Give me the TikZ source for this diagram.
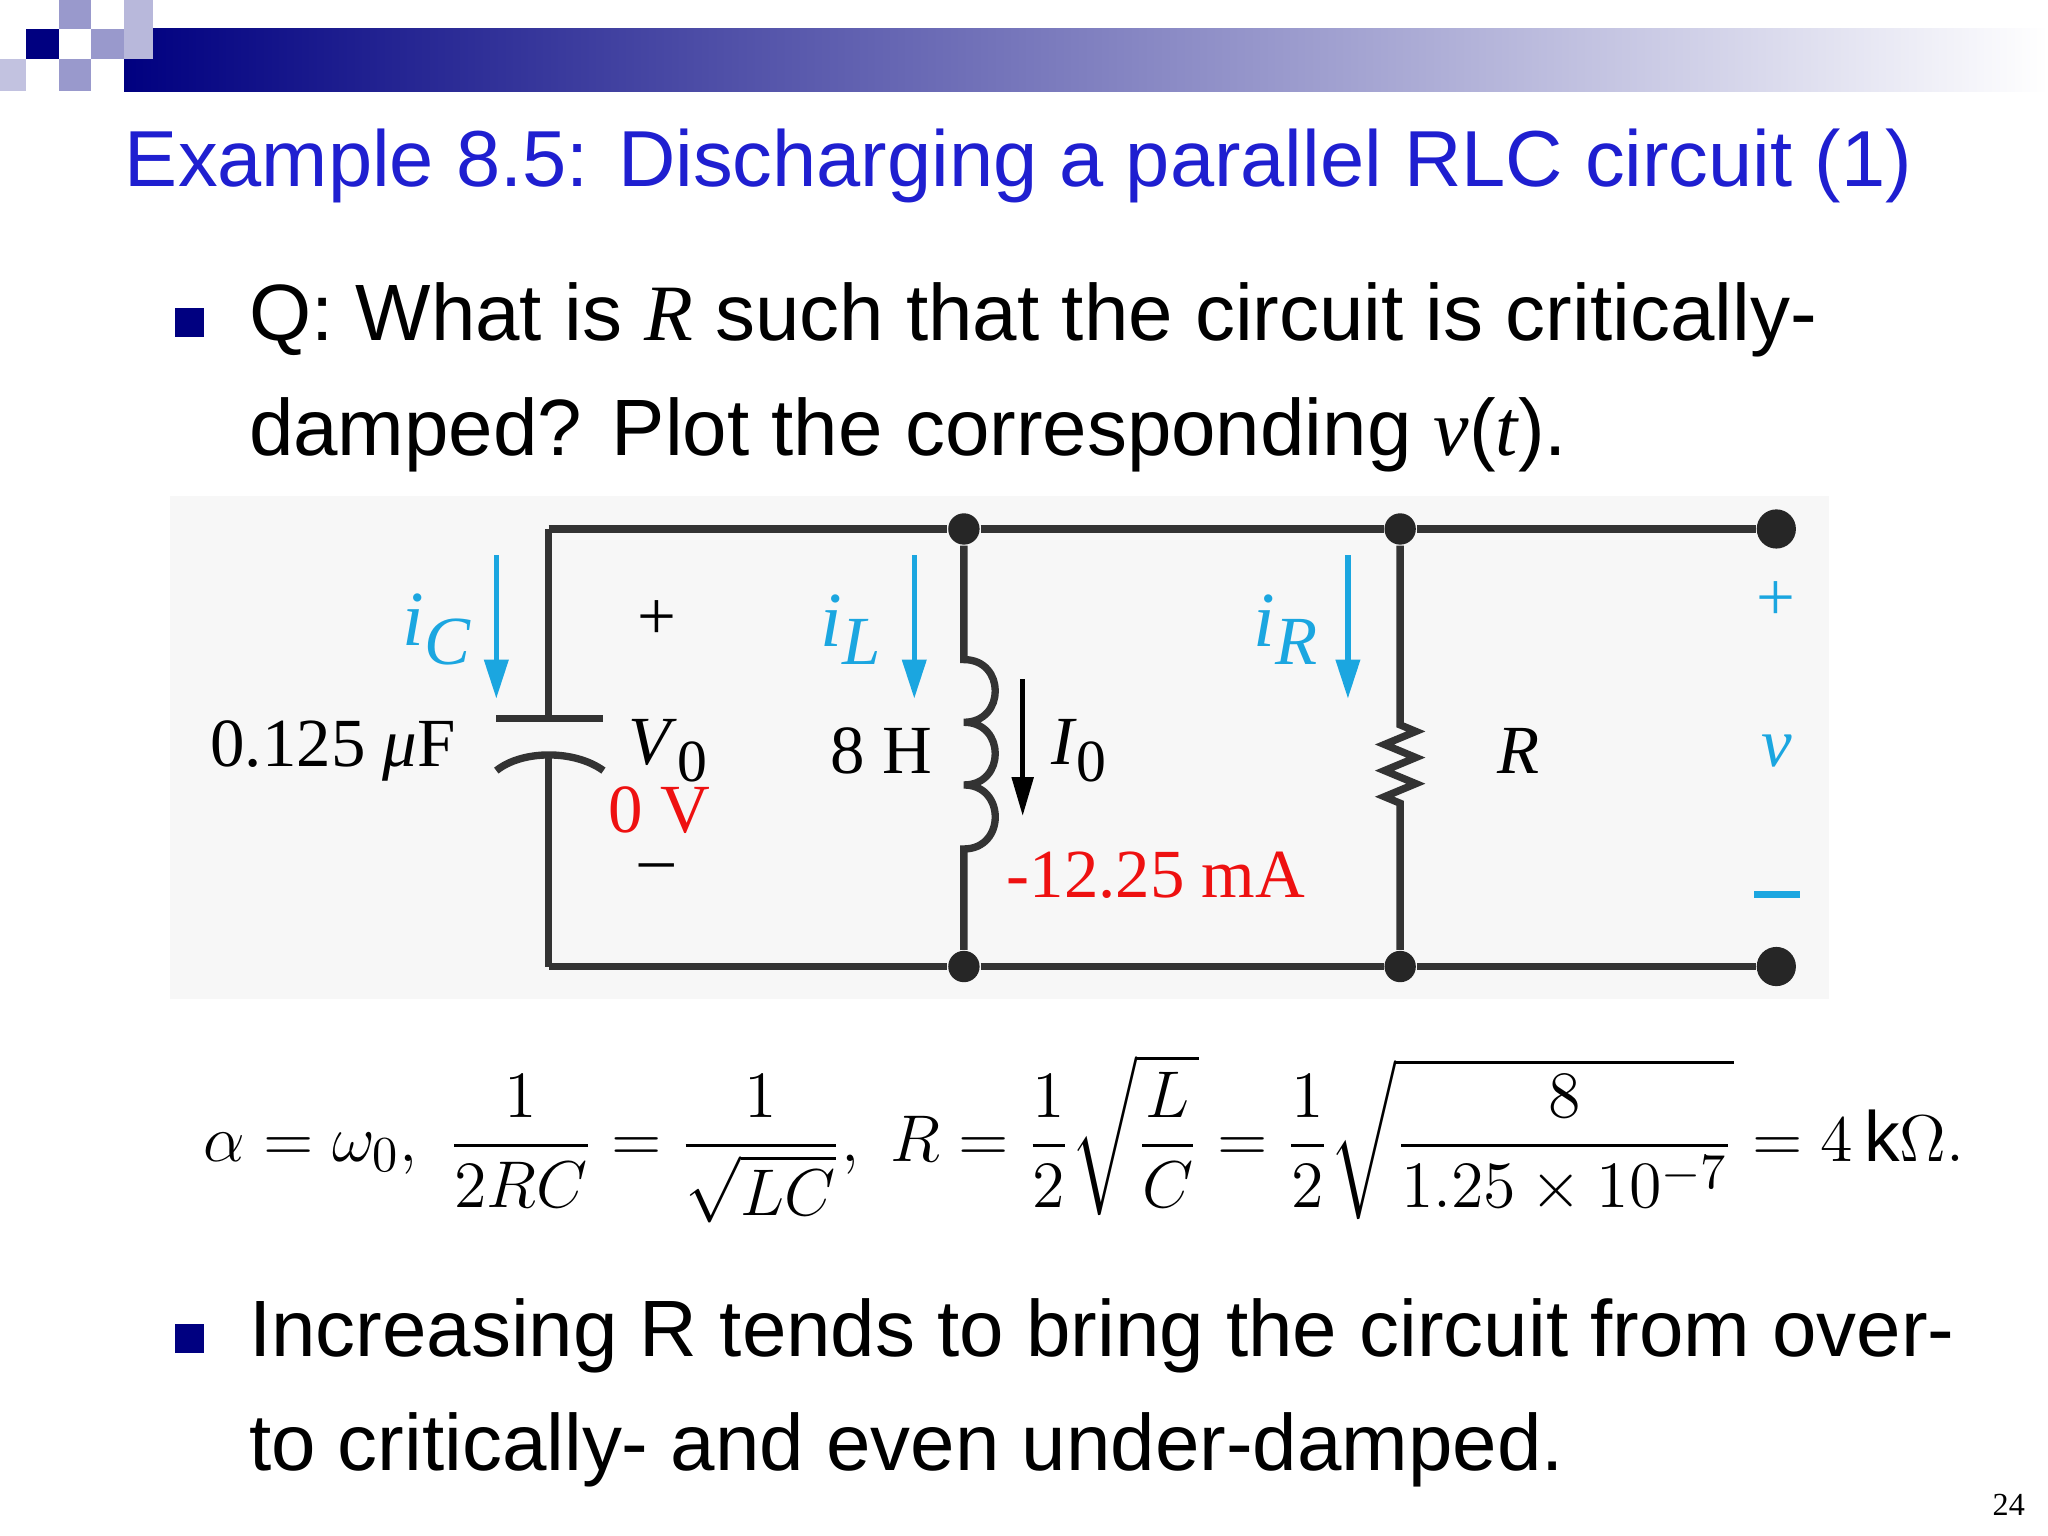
\documentclass[tikz,border=0pt]{standalone}
\usepackage{amsmath}
\usepackage{fontspec}
\setmainfont{Liberation Sans}
\newfontfamily\serif{Liberation Serif}
\usetikzlibrary{arrows.meta}
\definecolor{navy}{HTML}{000080}
\definecolor{lav}{HTML}{9999CC}
\definecolor{ttl}{HTML}{1F1FD0}
\definecolor{cyanb}{HTML}{1BA6E0}
\definecolor{redt}{HTML}{EE1111}
\tikzset{wire/.style={line width=1.6pt,black!80},
 dot/.style={circle,fill=black!85,inner sep=0pt,minimum size=0.24cm},
 tdot/.style={circle,fill=black!85,inner sep=0pt,minimum size=0.3cm},
 body/.style={anchor=west,font=\fontsize{17.4}{20}\selectfont,inner sep=0},
 lab/.style={font=\serif\fontsize{15}{18}\selectfont,inner sep=0},
 carr/.style={-{Triangle[length=0.3cm,width=0.18cm]},line width=1.2pt,cyanb},
 bul/.style={fill=navy,minimum size=0.22cm,inner sep=0}}
\begin{document}
\begin{tikzpicture}[x=0.01cm,y=-0.01cm]
\useasboundingbox (0,0) rectangle (1568,1176);
% header
\shade[left color=navy,right color=white] (95,22) rectangle (1568,70);
\fill[navy] (20,22) rectangle (45,45);
\fill[lav] (45,0) rectangle (70,22);
\fill[lav!70] (95,0) rectangle (117,45);
\fill[lav] (70,22) rectangle (95,45);
\fill[lav] (45,45) rectangle (70,70);
\fill[lav!60] (0,45) rectangle (20,70);
\node[anchor=west,text=ttl,font=\fontsize{17.3}{20}\selectfont,inner sep=0] (title) at (95,127) {Example 8.5: Discharging a parallel RLC circuit (1)};
% bullets
\node[bul] (b1) at (145,247) {};
\node[body] (q1) at (190,245) {Q: What is {\serif\itshape R} such that the circuit is critically-};
\node[body] (q2) at (190,333) {damped? Plot the corresponding {\serif\itshape v}({\serif\itshape t}).};
\node[bul] (b2) at (145,1025) {};
\node[body] (p1) at (190,1023) {Increasing R tends to bring the circuit from over-};
\node[body] (p2) at (190,1110) {to critically- and even under-damped.};
\node[font=\serif\fontsize{7}{8}\selectfont] (pg) at (1538,1152) {24};
% circuit background
\fill[black!3] (130,380) rectangle (1400,765);
\coordinate (tl) at (420,405); \coordinate (bl) at (420,740);
\node[dot] (t1) at (738,405) {}; \node[dot] (t2) at (1072,405) {};
\node[dot] (b1n) at (738,740) {}; \node[dot] (b2n) at (1072,740) {};
\node[tdot] (tp) at (1360,405) {}; \node[tdot] (tm) at (1360,740) {};
\draw[wire] (tl) -- (t1) -- (t2) -- (tp);
\draw[wire] (bl) -- (b1n) -- (b2n) -- (tm);
% capacitor
\coordinate (c1) at (420,550); \coordinate (c2) at (420,578);
\draw[wire] (tl) -- (c1); \draw[wire] (c2) -- (bl);
\draw[wire] (380,550) -- (462,550);
\draw[wire] (380,590) .. controls (400,574) and (440,574) .. (462,590);
% inductor
\coordinate (l1) at (738,505); \coordinate (l2) at (738,650);
\draw[wire] (t1) -- (l1)
  .. controls (770,505) and (770,553) .. (738,553)
  .. controls (770,553) and (770,601) .. (738,601)
  .. controls (770,601) and (770,650) .. (l2) -- (b1n);
% resistor
\draw[wire] (t2) -- (1072,555) -- (1084,560) -- (1060,570) -- (1084,580) -- (1060,590) -- (1084,600) -- (1060,610) -- (1072,615) -- (b2n);
% labels
\node[lab,text=cyanb,font=\serif\itshape\fontsize{17}{18}\selectfont] (ic) at (335,482) {i\textsubscript{\fontsize{15}{15}\selectfont C}};
\draw[carr] (380,425) -- (380,535);
\node[lab,text=cyanb,font=\serif\itshape\fontsize{17}{18}\selectfont] (il) at (652,482) {i\textsubscript{\fontsize{15}{15}\selectfont L}};
\draw[carr] (700,425) -- (700,535);
\node[lab,text=cyanb,font=\serif\itshape\fontsize{17}{18}\selectfont] (ir) at (985,482) {i\textsubscript{\fontsize{15}{15}\selectfont R}};
\draw[carr] (1032,425) -- (1032,535);
\node[lab] (cv) at (255,575) {0.125 \textit{μ}F};
\node[lab] (pl) at (503,475) {+};
\node[lab] (v0) at (512,575) {\textit{V}\textsubscript{\fontsize{13}{13}\selectfont 0}};
\node[lab,text=redt] (zv) at (505,620) {0 V};
\node[lab] (mi) at (503,668) {–};
\node[lab] (lh) at (675,575) {8 H};
\draw[-{Triangle[length=0.3cm,width=0.16cm]},line width=1.2pt] (783,520) -- (783,625);
\node[lab] (i0) at (827,575) {\textit{I}\textsubscript{\fontsize{13}{13}\selectfont 0}};
\node[lab,text=redt] (ma) at (885,670) {-12.25 mA};
\node[lab] (rl) at (1163,575) {\textit{R}};
\node[lab,text=cyanb] (vp) at (1360,460) {+};
\node[lab,text=cyanb] (vv) at (1360,575) {\textit{v}};
\draw[line width=1.6pt,cyanb] (1343,685) -- (1378,685);
% equation
\node[inner sep=0,font=\fontsize{15.5}{18}\selectfont] (eq) at (830,872) {$\alpha=\omega_0,\ \dfrac{1}{2RC}=\dfrac{1}{\sqrt{LC}},\ R=\dfrac12\sqrt{\dfrac{L}{C}}=\dfrac12\sqrt{\dfrac{8}{1.25\times10^{-7}}}=4\,\mathrm{k}\Omega.$};
\end{tikzpicture}
\end{document}
